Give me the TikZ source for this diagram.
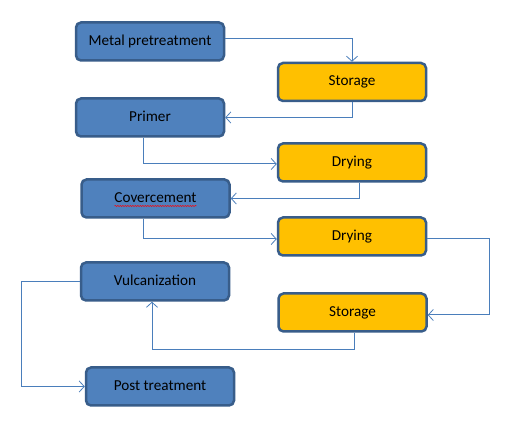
\documentclass[tikz,border=0pt]{standalone}
\usepackage{fontspec}
\setmainfont{Carlito}
\usetikzlibrary{arrows.meta,decorations.pathmorphing}
\definecolor{boxblue}{HTML}{4F81BD}
\definecolor{boxline}{HTML}{385D8A}
\definecolor{boxorange}{HTML}{FFC000}
\definecolor{conn}{HTML}{4A7EBB}
\tikzset{
  procbox/.style={draw=boxline, line width=2.5pt, rounded corners=5pt, fill=boxblue,
    minimum height=38pt, minimum width=148pt, inner sep=0pt,
    font=\fontsize{15.2}{18}\selectfont, text=black},
  waitbox/.style={procbox, fill=boxorange},
  flow/.style={draw=conn, line width=1pt, -{Straight Barb[length=5pt,width=11pt,line width=0.8pt]}},
}
\begin{document}
\begin{tikzpicture}[x=1pt,y=-1pt]
\useasboundingbox[fill=white] (0,0) rectangle (517,435);
\node[procbox] (metal) at (150,41.5) {\raisebox{2pt}{Metal pretreatment}};
\node[waitbox] (stor1) at (352,82) {\raisebox{2pt}{Storage}};
\node[procbox] (primer) at (150,117.5) {\raisebox{2pt}{Primer}};
\node[waitbox] (dry1) at (352,162.5) {\raisebox{2pt}{Drying}};
\node[procbox] (cover) at (155.5,198.5) {\raisebox{2pt}{Covercement}};
\node[waitbox] (dry2) at (352,236.5) {\raisebox{2pt}{Drying}};
\node[procbox] (vulc) at (155,281.5) {\raisebox{2pt}{Vulcanization}};
\node[waitbox] (stor2) at (352.5,312.5) {\raisebox{2pt}{Storage}};
\node[procbox] (post) at (160,386.5) {\raisebox{2pt}{Post treatment}};
\draw[red, line width=0.5pt, decorate, decoration={snake, amplitude=0.6pt, segment length=2.5pt}]
  ([xshift=-41pt,yshift=-7.5pt]cover.center) -- ([xshift=41pt,yshift=-7.5pt]cover.center);
\draw[flow] ([yshift=3pt]metal.east) -| (stor1.north);
\draw[flow] (stor1.south) |- (primer.east);
\draw[flow] ([xshift=-7pt]primer.south) |- ([yshift=-1.5pt]dry1.west);
\draw[flow] ([xshift=7pt]dry1.south) |- (cover.east);
\draw[flow] ([xshift=-12.5pt]cover.south) |- ([yshift=-2.5pt]dry2.west);
\draw[flow] ([yshift=-2.5pt]dry2.east) -- ++(62,0) |- ([yshift=-2.5pt]stor2.east);
\draw[flow] ([xshift=1.5pt]stor2.south) -- ++(0,17) -| ([xshift=-3pt]vulc.south);
\draw[flow] (vulc.west) -- ++(-58,0) |- (post.west);
\end{tikzpicture}
\end{document}
